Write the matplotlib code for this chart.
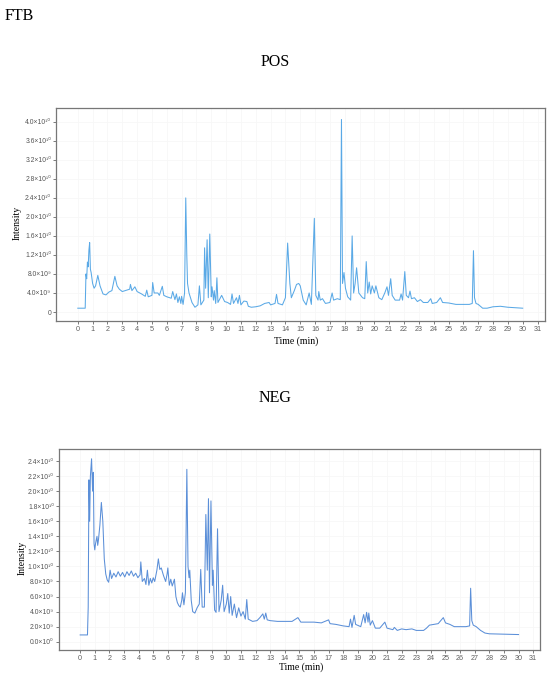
import matplotlib
matplotlib.use("Agg")
import matplotlib.pyplot as plt
import numpy as np

# POS chromatogram, time in min, intensity in units of 1e9
pos_time = [0, 0.5, 0.55, 0.6, 0.65, 0.7, 0.75, 0.8, 0.85, 0.9,
            1.0, 1.1, 1.2, 1.35, 1.5, 1.7, 1.9, 2.1, 2.3, 2.5,
            2.65, 2.8, 3.0, 3.3, 3.5, 3.55, 3.65, 3.85, 4.0, 4.3,
            4.55, 4.65, 4.75, 5.0, 5.05, 5.15, 5.4, 5.5, 5.7, 5.8,
            6.0, 6.3, 6.4, 6.55, 6.65, 6.75, 6.85, 6.95, 7.0, 7.1,
            7.2, 7.28, 7.35, 7.4, 7.5, 7.7, 7.9, 8.1, 8.2, 8.3,
            8.5, 8.55, 8.62, 8.72, 8.8, 8.9, 9.0, 9.05, 9.15, 9.2,
            9.3, 9.38, 9.45, 9.7, 9.9, 10.1, 10.3, 10.4, 10.5, 10.7,
            10.8, 10.9, 11.0, 11.2, 11.4, 11.5, 11.7, 12.0, 12.3, 12.6,
            12.9, 13.0, 13.3, 13.4, 13.5, 13.8, 14.0, 14.15, 14.3, 14.4,
            14.6, 14.75, 14.9, 15.0, 15.2, 15.4, 15.6, 15.75, 15.95, 16.05,
            16.2, 16.25, 16.35, 16.5, 16.7, 17.0, 17.15, 17.25, 17.5, 17.7,
            17.78, 17.85, 17.95, 18.05, 18.2, 18.4, 18.5, 18.6, 18.7, 18.8,
            18.95, 19.2, 19.35, 19.45, 19.55, 19.65, 19.75, 19.85, 20.0, 20.1,
            20.3, 20.5, 20.7, 20.85, 20.95, 21.1, 21.2, 21.4, 21.7, 21.8,
            21.9, 22.05, 22.15, 22.3, 22.4, 22.5, 22.7, 22.9, 23.1, 23.3,
            23.6, 23.8, 23.9, 24.2, 24.45, 24.6, 25.0, 25.5, 26.0, 26.4,
            26.6, 26.68, 26.75, 26.85, 27.0, 27.3, 27.6, 28.0, 28.5, 29.0,
            29.5, 30.0]
pos_int = [0.8, 0.8, 8.0, 7.0, 10.5, 9.5, 13.0, 14.6, 9.0, 8.3,
           6.0, 5.0, 5.5, 7.7, 5.5, 3.8, 3.6, 4.2, 4.5, 7.5,
           5.5, 4.8, 4.3, 4.6, 4.8, 5.8, 4.5, 5.3, 4.3, 3.8,
           3.3, 4.6, 3.2, 3.5, 6.2, 4.0, 4.0, 3.5, 5.4, 3.5,
           3.2, 2.9, 4.3, 2.6, 3.8, 2.0, 3.2, 1.8, 3.3, 1.6,
           4.0, 24.0, 12.0, 6.0, 4.0, 2.0, 1.0, 1.5, 5.5, 1.5,
           2.5, 13.5, 5.0, 15.2, 3.0, 16.4, 3.2, 5.3, 2.5, 4.5,
           1.8, 7.2, 2.0, 3.5, 2.2, 2.0, 1.6, 3.8, 1.8, 3.0,
           1.8, 3.5, 1.5, 2.3, 2.2, 1.2, 1.0, 1.1, 1.3, 1.8,
           2.0, 1.5, 1.8, 3.7, 1.8, 1.5, 3.0, 14.5, 6.0, 3.0,
           4.5, 5.8, 6.0, 5.5, 2.5, 1.5, 4.0, 1.6, 19.7, 3.5,
           2.5, 4.3, 2.5, 2.8, 1.8, 2.0, 4.0, 2.5, 2.8, 2.6,
           40.5, 6.0, 8.3, 5.0, 3.2, 2.5, 16.0, 4.0, 6.0, 9.3,
           4.0, 3.0, 2.8, 10.6, 4.0, 6.3, 3.8, 5.5, 4.0, 5.5,
           3.0, 2.6, 4.0, 5.3, 3.5, 7.0, 3.5, 2.5, 2.5, 3.8,
           2.5, 8.5, 3.5, 3.0, 4.4, 2.8, 3.0, 2.2, 2.6, 2.0,
           2.0, 2.8, 1.8, 2.0, 3.0, 2.0, 1.9, 1.6, 1.6, 1.6,
           1.8, 12.9, 3.0, 1.8, 1.6, 0.8, 0.8, 1.1, 1.2, 1.0,
           0.9, 0.8]

# NEG chromatogram
neg_time = [0, 0.5, 0.55, 0.6, 0.65, 0.7, 0.78, 0.85, 0.9, 0.95,
            1.0, 1.05, 1.15, 1.2, 1.25, 1.35, 1.45, 1.55, 1.65, 1.75,
            1.85, 1.95, 2.05, 2.15, 2.3, 2.45, 2.6, 2.75, 2.9, 3.05,
            3.2, 3.35, 3.5, 3.65, 3.8, 3.95, 4.1, 4.15, 4.25, 4.4,
            4.5, 4.6, 4.7, 4.8, 4.9, 5.0, 5.1, 5.25, 5.35, 5.45,
            5.55, 5.7, 5.85, 5.95, 6.0, 6.1, 6.2, 6.3, 6.45, 6.55,
            6.65, 6.75, 6.85, 6.95, 7.0, 7.1, 7.2, 7.3, 7.38, 7.45,
            7.5, 7.6, 7.7, 7.85, 8.0, 8.15, 8.25, 8.35, 8.5, 8.6,
            8.7, 8.78, 8.85, 8.95, 9.05, 9.1, 9.2, 9.3, 9.4, 9.5,
            9.65, 9.75, 9.85, 10.0, 10.1, 10.2, 10.3, 10.4, 10.55, 10.7,
            10.85, 11.0, 11.15, 11.3, 11.4, 11.5, 11.8, 12.1, 12.3, 12.5,
            12.6, 12.7, 12.8, 13.0, 13.5, 14.0, 14.5, 14.9, 15.1, 15.5,
            16.0, 16.5, 17.0, 17.1, 17.5, 18.0, 18.4, 18.5, 18.6, 18.75,
            18.85, 19.2, 19.4, 19.5, 19.6, 19.7, 19.75, 19.85, 20.0, 20.2,
            20.5, 20.85, 21.0, 21.4, 21.5, 21.7, 22.0, 22.3, 22.7, 23.0,
            23.5, 23.7, 23.9, 24.2, 24.5, 24.85, 25.0, 25.3, 25.6, 26.0,
            26.4, 26.65, 26.72, 26.8, 26.9, 27.1, 27.4, 27.7, 28.0, 29.0,
            30.0]
neg_int = [0.9, 0.9, 4.6, 21.5, 16.0, 22.0, 24.3, 20.0, 22.5, 13.0,
           12.2, 13.0, 14.0, 12.8, 13.5, 15.5, 18.5, 16.0, 11.0, 9.0,
           8.2, 7.9, 9.5, 8.4, 9.1, 8.6, 9.3, 8.7, 9.2, 8.6,
           9.3, 8.8, 9.4, 8.7, 9.1, 8.5, 8.9, 10.6, 8.0, 8.4,
           7.6, 9.5, 7.5, 8.4, 7.8, 8.5, 8.0, 9.5, 11.0, 9.6,
           9.8, 8.8, 8.0, 9.0, 9.8, 7.5, 8.3, 7.4, 8.3, 6.0,
           5.2, 4.8, 4.6, 5.5, 6.5, 4.9, 6.5, 22.9, 10.0, 8.5,
           9.5, 5.5, 4.0, 3.8, 4.5, 5.0, 9.6, 4.6, 4.6, 16.9,
           9.5, 19.0, 6.5, 18.7, 7.5, 9.5, 4.2, 3.9, 15.0, 4.0,
           5.5, 7.5, 4.0, 5.0, 6.4, 3.8, 6.0, 3.5, 5.0, 3.2,
           4.5, 3.4, 4.0, 3.0, 5.6, 3.0, 2.7, 2.8, 3.2, 3.7,
           3.0, 3.8, 2.9, 2.8, 2.7, 2.7, 2.7, 3.2, 2.6, 2.6,
           2.6, 2.5, 2.9, 2.4, 2.3, 2.1, 2.0, 3.0, 1.9, 3.5,
           2.3, 2.0, 3.6, 2.5, 3.9, 2.6, 3.8, 2.2, 2.8, 1.8,
           1.8, 2.6, 1.8, 1.6, 1.9, 1.5, 1.7, 1.6, 1.7, 1.5,
           1.5, 1.8, 2.2, 2.3, 2.4, 3.2, 2.5, 2.3, 2.0, 2.0,
           2.0, 2.1, 7.1, 2.8, 2.2, 2.0, 1.5, 1.15, 1.05, 1.0,
           0.95]

x_ticks = list(range(0, 32))
pos_yticks = [0, 4, 8, 12, 16, 20, 24, 28, 32, 36, 40]
pos_ylabels = ["0", "4.0×10⁹", "8.0×10⁹", "1.2×10¹⁰", "1.6×10¹⁰", "2.0×10¹⁰",
               "2.4×10¹⁰", "2.8×10¹⁰", "3.2×10¹⁰", "3.6×10¹⁰", "4.0×10¹⁰"]
neg_yticks = [0, 2, 4, 6, 8, 10, 12, 14, 16, 18, 20, 22, 24]
neg_ylabels = ["0.0×10⁰", "2.0×10⁹", "4.0×10⁹", "6.0×10⁹", "8.0×10⁹", "1.0×10¹⁰",
               "1.2×10¹⁰", "1.4×10¹⁰", "1.6×10¹⁰", "1.8×10¹⁰", "2.0×10¹⁰",
               "2.2×10¹⁰", "2.4×10¹⁰"]

serif = ["Liberation Serif", "DejaVu Serif"]
sans = ["Liberation Sans", "DejaVu Sans"]

fig = plt.figure(figsize=(5.5, 6.77), dpi=100)
ax1 = fig.add_axes([0.1018, 0.5258, 0.889, 0.3146])
ax2 = fig.add_axes([0.1067, 0.0399, 0.876, 0.2969])


def style(ax, yt, ylab, ylim):
    ax.set_xlim(-1.47, 31.5)
    ax.set_ylim(*ylim)
    ax.set_xticks(x_ticks)
    ax.set_xticklabels([str(t) for t in x_ticks], fontsize=5.2, color="#606060", family=sans)
    ax.set_yticks(np.array(yt) * 1e9)
    ax.set_yticklabels(ylab, fontsize=4.9, color="#555555", family=sans)
    ax.tick_params(length=2, width=0.6, color="#666666", pad=1.5)
    ax.grid(True, color="#f7f7f7", lw=0.6)
    ax.set_axisbelow(True)
    for s in ax.spines.values():
        s.set_color("#777777")
        s.set_linewidth(0.9)


ax1.plot(pos_time, np.array(pos_int) * 1e9, color="#5aa9e6", lw=0.75)
style(ax1, pos_yticks, pos_ylabels, (-1.9e9, 42.9e9))

ax2.plot(neg_time, np.array(neg_int) * 1e9, color="#5b8fd8", lw=0.75)
style(ax2, neg_yticks, neg_ylabels, (-1.1e9, 25.6e9))

fig.text(0.008, 0.976, "FTB", fontsize=11.5, family=serif, va="center", ha="left")
fig.text(0.5, 0.908, "POS", fontsize=11.5, family=serif, va="center", ha="center")
fig.text(0.5, 0.412, "NEG", fontsize=11.5, family=serif, va="center", ha="center")
fig.text(296.5 / 550, 1 - 341 / 677, "Time (min)", fontsize=7, family=serif, va="center", ha="center")
fig.text(301 / 550, 1 - 667 / 677, "Time (min)", fontsize=7, family=serif, va="center", ha="center")
fig.text(17 / 550, 1 - 223 / 677, "Intensity", fontsize=7, family=serif, va="center", ha="center", rotation=90)
fig.text(22 / 550, 1 - 558 / 677, "Intensity", fontsize=7, family=serif, va="center", ha="center", rotation=90)

fig.savefig("out.png", dpi=100)
